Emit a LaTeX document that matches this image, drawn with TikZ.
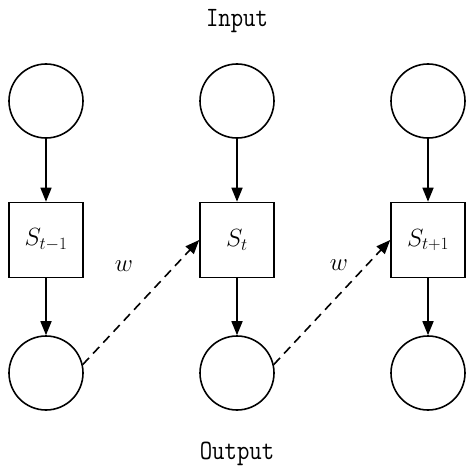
\documentclass[tikz,border=0pt]{standalone}
\usetikzlibrary{arrows.meta}
\begin{document}
\begin{tikzpicture}[x=1pt,y=-1pt,
  cell/.style={draw,line width=1.6pt,circle,minimum size=74pt,inner sep=0pt},
  state/.style={draw,line width=1.6pt,rectangle,minimum width=74pt,minimum height=75pt,inner sep=0pt,font=\fontsize{24}{28}\selectfont},
  flow/.style={line width=1.6pt,-{Triangle[length=14pt,width=11pt]}},
  rec/.style={flow,dash pattern=on 9pt off 6pt},
  lbl/.style={font=\fontsize{28}{32}\ttfamily}]
\useasboundingbox (0,0) rectangle (474,476);
\node[lbl] (in) at (237,21) {\scalebox{0.86}[1]{Input}};
\node[lbl] (out) at (237,454) {\scalebox{0.86}[1]{Output}};
\foreach \n/\x/\s in {a/46/{S_{t-1}},b/237/{S_{t}},c/428/{S_{t+1}}}{
  \node[cell] (\n top) at (\x,101) {};
  \node[state] (\n s) at (\x,240) {$\s$};
  \node[cell] (\n bot) at (\x,373) {};
  \draw[flow] (\n top) -- (\n s);
  \draw[flow] (\n s) -- (\n bot);
}
\draw[rec] (abot.13) -- (bs.west);
\draw[rec] (bbot.13) -- (cs.west);
\node[font=\fontsize{24}{28}\selectfont] (w1) at (124,266) {$w$};
\node[font=\fontsize{24}{28}\selectfont] (w2) at (339,265) {$w$};
\end{tikzpicture}
\end{document}
